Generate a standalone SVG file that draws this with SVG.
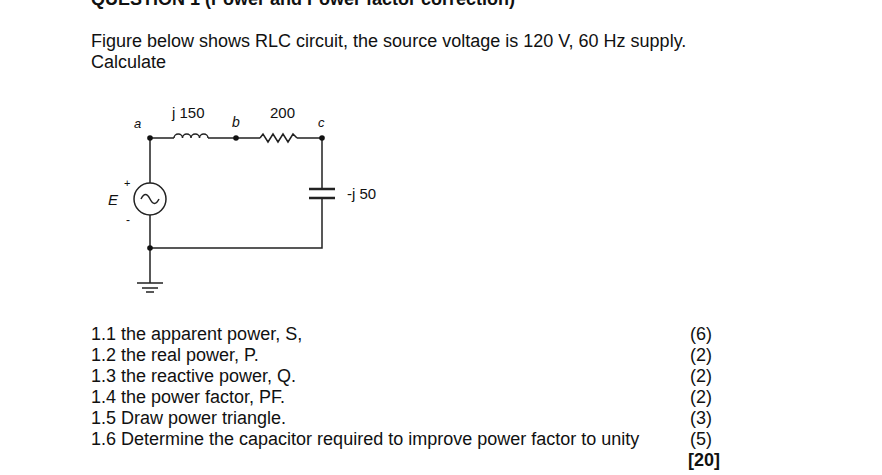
<svg xmlns="http://www.w3.org/2000/svg" width="882" height="475" viewBox="0 0 882 475">
<style>
text{font-family:"Liberation Sans",Arial,sans-serif;fill:#111}
.t{font-size:18px}
.s{font-size:15px}
.w{stroke:#222;stroke-width:1.5;fill:none}
</style>
<rect width="882" height="475" fill="#fff"/>
<text x="91" y="5" class="t" font-weight="bold">QUESTION 1 (Power and Power factor correction)</text>
<text x="91" y="47" class="t">Figure below shows RLC circuit, the source voltage is 120 V, 60 Hz supply.</text>
<text x="91" y="68" class="t">Calculate</text>
<g id="connectors" class="w">
<path d="M150 138H174M208 138H260M297 138H322V189M322 198V248H150V215M150 183V138M150 248V283"/>
</g>
<g id="inductor"><path class="w" d="M174 138a4.25 4 0 0 1 8.5 0a4.25 4 0 0 1 8.5 0a4.25 4 0 0 1 8.5 0a4.25 4 0 0 1 8.5 0"/>
<text x="172" y="118" class="s">j 150</text></g>
<g id="resistor"><path class="w" d="M260 138l3 -4l5 8l5 -8l5 8l5 -8l5 8l5 -8l4 4"/>
<text x="270" y="118" class="s">200</text></g>
<g id="capacitor"><path d="M309 189H335M309 198H335" stroke="#222" stroke-width="2.5"/>
<text x="347" y="199" class="s">-j 50</text></g>
<g id="source"><circle cx="150" cy="199" r="16" class="w"/>
<path class="w" d="M141 199q4.5 -9 9 0t9 0"/>
<text x="108" y="205" class="s" font-style="italic">E</text>
<text x="124" y="187" font-size="11">+</text>
<text x="126" y="224" font-size="12">-</text></g>
<g id="nodes" fill="#111">
<circle cx="150" cy="138" r="2.8"/><circle cx="236" cy="138" r="2.8"/><circle cx="322" cy="138" r="2.8"/><circle cx="150" cy="248" r="2.8"/>
<text x="134" y="128" font-size="13" font-style="italic">a</text>
<text x="232" y="127" font-size="14" font-style="italic">b</text>
<text x="318" y="127" font-size="13" font-style="italic">c</text>
</g>
<g id="ground" class="w"><path d="M137 283H163M142 288H158M146 292H154"/></g>
<g class="t">
<text x="91" y="340">1.1 the apparent power, S,</text>
<text x="91" y="361">1.2 the real power, P.</text>
<text x="91" y="382">1.3 the reactive power, Q.</text>
<text x="91" y="403">1.4 the power factor, PF.</text>
<text x="91" y="424">1.5 Draw power triangle.</text>
<text x="91" y="445">1.6 Determine the capacitor required to improve power factor to unity</text>
<text x="690" y="340">(6)</text>
<text x="690" y="361">(2)</text>
<text x="690" y="382">(2)</text>
<text x="690" y="403">(2)</text>
<text x="690" y="424">(3)</text>
<text x="690" y="445">(5)</text>
<text x="688" y="466" font-weight="bold">[20]</text>
</g>
</svg>
